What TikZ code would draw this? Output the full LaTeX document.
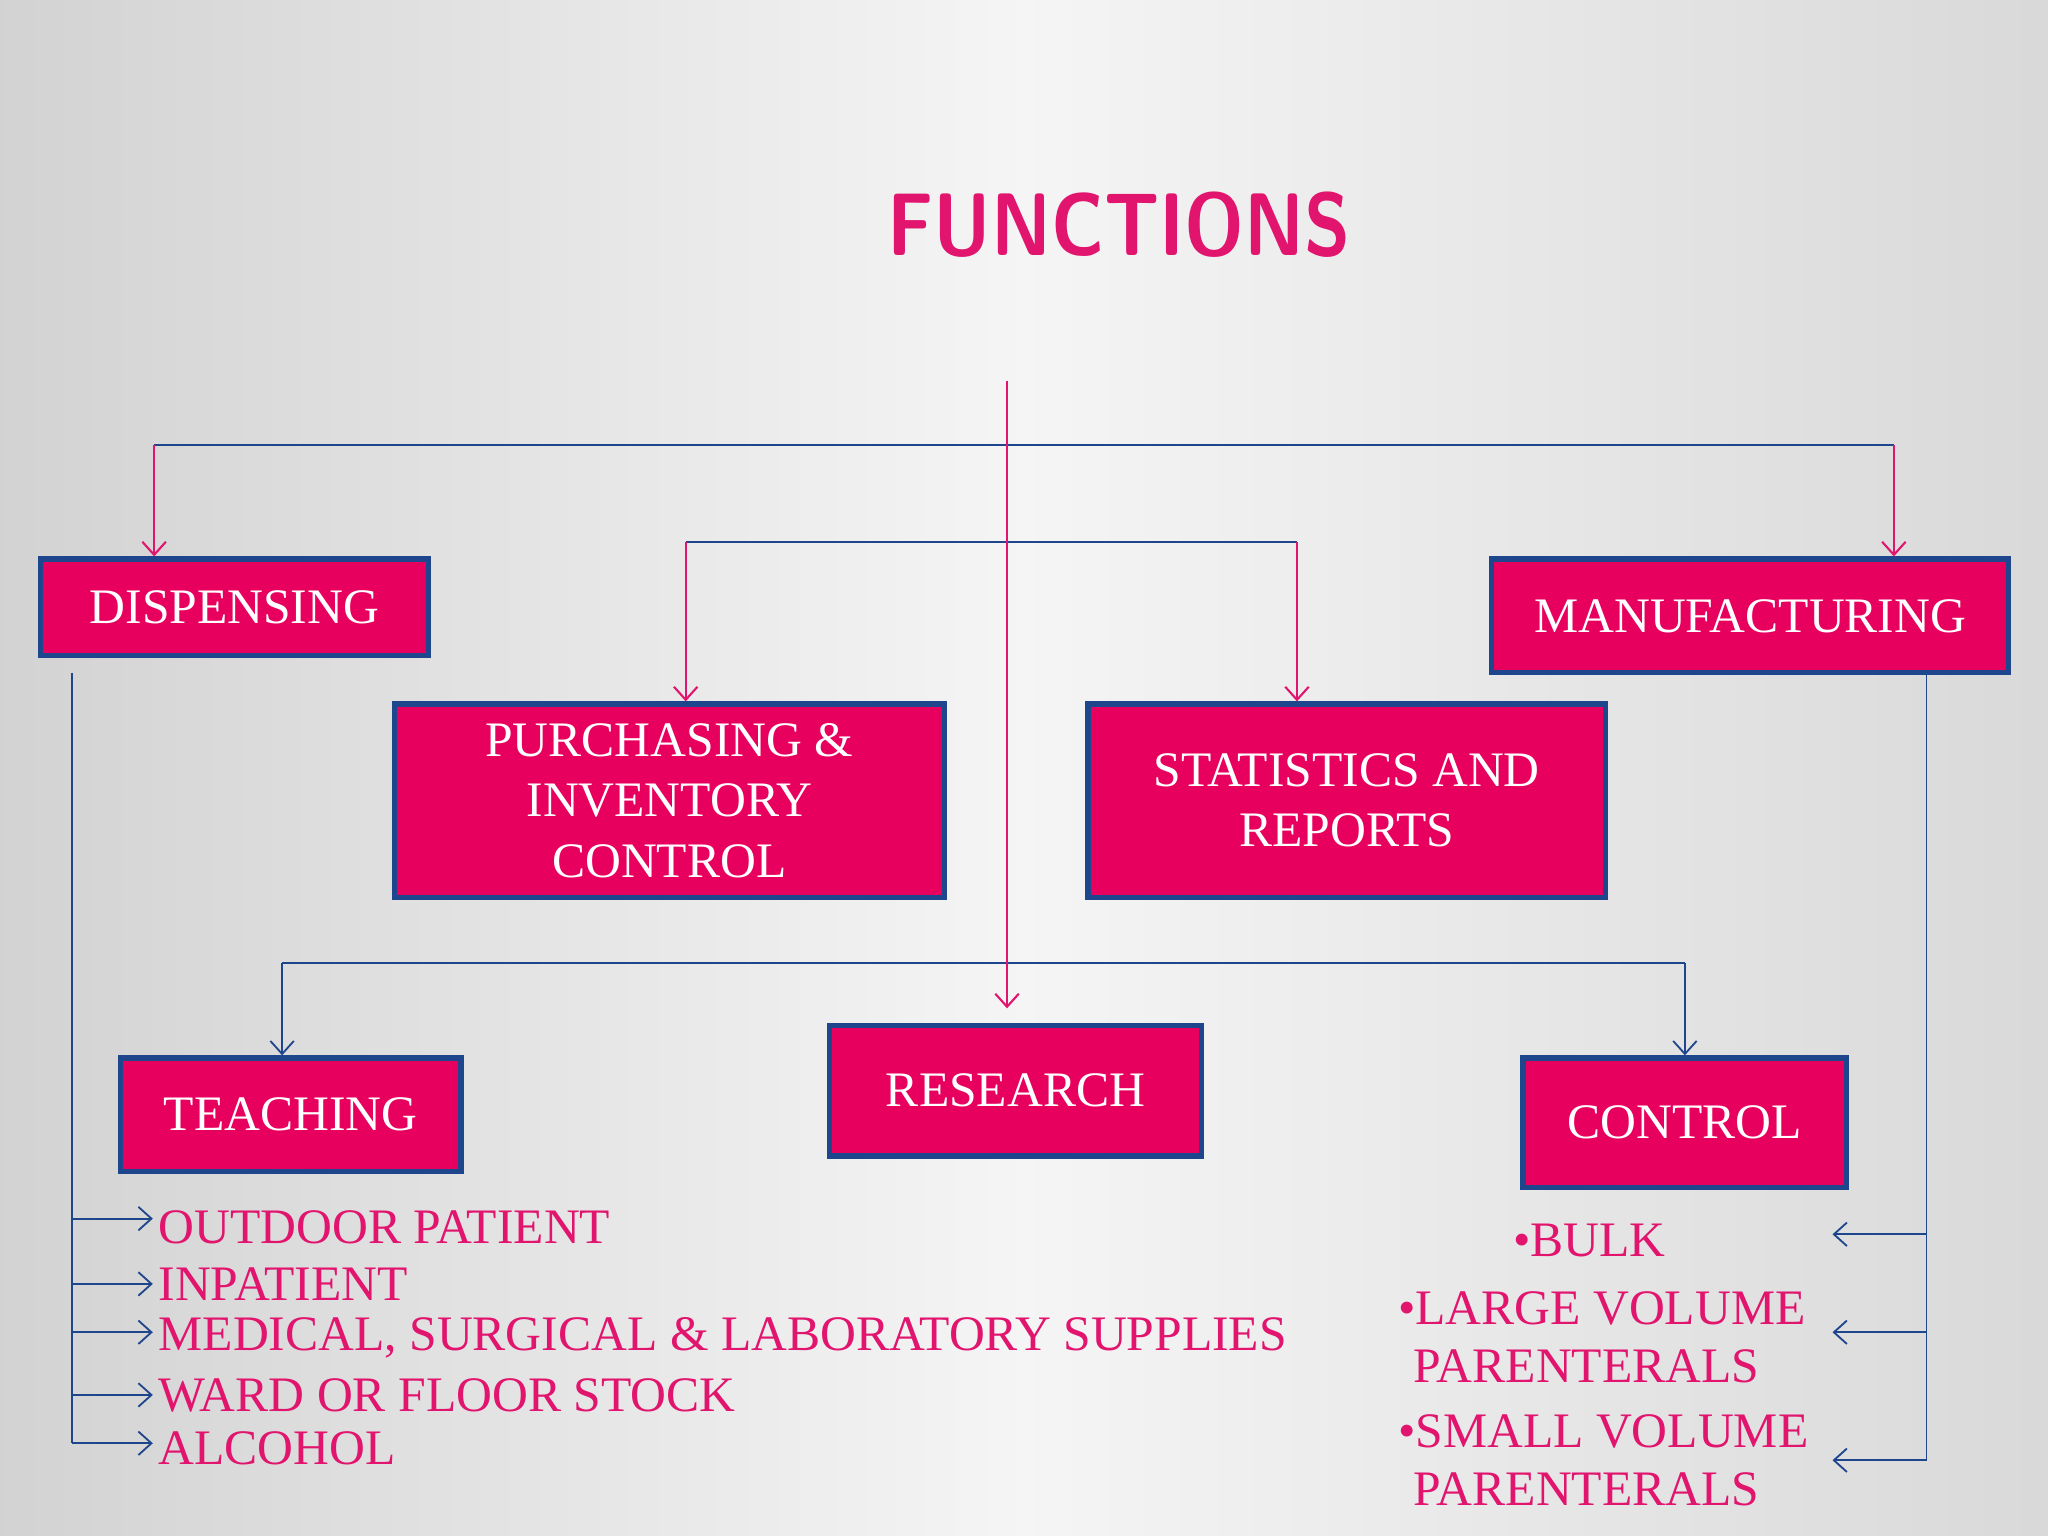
\documentclass[tikz,border=0pt]{standalone}
\usepackage{fontspec}
\setmainfont{Liberation Serif}
\usetikzlibrary{arrows.meta}
\definecolor{boxpink}{RGB}{232,0,95}
\definecolor{boxblue}{RGB}{30,70,140}
\definecolor{txtpink}{RGB}{225,20,110}
\tikzset{
  func/.style={draw=boxblue,line width=2pt,fill=boxpink,text=white,align=center,
    font=\fontsize{19}{23}\selectfont,inner sep=0pt},
  item/.style={text=txtpink,anchor=west,inner sep=0pt,font=\fontsize{19}{22}\selectfont},
  bl/.style={draw=boxblue,line width=0.7pt},
  pk/.style={draw=txtpink,line width=0.8pt},
  tip/.style={-{Straight Barb[length=5pt,width=9pt]}}
}
\begin{document}
\begin{tikzpicture}[x=0.5pt,y=-0.5pt]
  % background
  \shade[left color=gray!35,right color=gray!30,middle color=gray!8] (0,0) rectangle (1568,1176);
  \useasboundingbox (0,0) rectangle (1568,1176);
  \node[text=txtpink,font=\fontsize{34}{38}\selectfont\sffamily\bfseries,xscale=0.85] (title) at (857,172) {FUNCTIONS};
  % boxes
  \node[func,minimum width=148.5pt,minimum height=37pt] (disp) at (179.5,465) {DISPENSING};
  \node[func,minimum width=198pt,minimum height=43.5pt] (manu) at (1340,471.5) {MANUFACTURING};
  \node[func,minimum width=210.5pt,minimum height=74pt] (purch) at (512.5,613) {PURCHASING \&\\INVENTORY\\CONTROL};
  \node[func,minimum width=198pt,minimum height=74pt] (stat) at (1031,613) {STATISTICS AND\\REPORTS};
  \node[func,minimum width=130.5pt,minimum height=43.5pt] (teach) at (222.5,853.5) {TEACHING};
  \node[func,minimum width=142.5pt,minimum height=50pt] (res) at (777.5,835) {RESEARCH};
  \node[func,minimum width=124pt,minimum height=49.5pt] (ctrl) at (1290,859.5) {CONTROL};
  % trunk
  \coordinate (top) at (771,292);
  \coordinate (a1) at (118,341); \coordinate (a2) at (1450,341);
  \coordinate (b1) at (525,415); \coordinate (b2) at (993,415);
  \coordinate (c1) at (216,737); \coordinate (c2) at (1290,737);
  \draw[bl] (a1) -- (a2);
  \draw[bl] (b1) -- (b2);
  \draw[bl] (c1) -- (c2);
  \draw[pk,tip] (top) -- (771,772);
  \draw[pk,tip] (a1) -- (disp.north -| a1);
  \draw[pk,tip] (a2) -- (manu.north -| a2);
  \draw[pk,tip] (b1) -- (purch.north -| b1);
  \draw[pk,tip] (b2) -- (stat.north -| b2);
  \draw[bl,tip] (c1) -- (teach.north -| c1);
  \draw[bl,tip] (c2) -- (ctrl.north);
  % dispensing list
  \node[item] (i1) at (121,940) {OUTDOOR PATIENT};
  \node[item] (i2) at (121,983) {INPATIENT};
  \node[item] (i3) at (121,1024) {MEDICAL, SURGICAL \& LABORATORY SUPPLIES};
  \node[item] (i4) at (121,1068) {WARD OR FLOOR STOCK};
  \node[item] (i5) at (121,1109) {ALCOHOL};
  \coordinate (dl) at (55,515);
  \draw[bl] (dl) -- (55,1105);
  \foreach \i/\y in {i1/933,i2/983,i3/1020,i4/1068,i5/1105}
    \draw[bl,tip] (55,\y) -- (117,\y);
  % manufacturing list
  \node[item] (m1) at (1158,950) {\textbullet BULK};
  \node[item,align=left] (m2) at (1070,1024) {\textbullet LARGE VOLUME\\\hspace*{6pt}PARENTERALS};
  \node[item,align=left] (m3) at (1070,1118) {\textbullet SMALL VOLUME\\\hspace*{6pt}PARENTERALS};
  \coordinate (ml) at (1475,515);
  \draw[bl] (ml) -- (1475,1118);
  \foreach \y in {945,1020,1118}
    \draw[bl,tip] (1475,\y) -- (1403,\y);
\end{tikzpicture}
\end{document}
